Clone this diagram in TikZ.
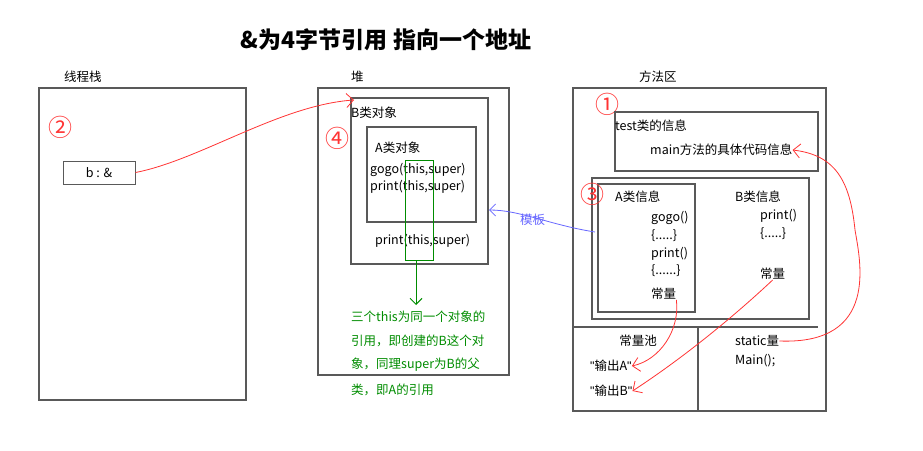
\documentclass[tikz,border=0pt]{standalone}
\usepackage{fontspec}
\setmainfont{Noto Sans CJK SC}
\newfontfamily\lat{Liberation Sans}
\usetikzlibrary{arrows.meta}
\begin{document}
\begin{tikzpicture}[x=1pt,y=-1pt,
  box/.style={draw=black!65,line width=1.3pt},
  t/.style={font=\fontsize{12.5}{14}\selectfont,inner sep=0pt,anchor=west},
  gt/.style={t,text=green!55!black},
  red/.style={draw=red!80,line width=0.8pt},
  circ/.style={font=\fontsize{24}{24}\selectfont,text=red!80}]
\useasboundingbox (0,0) rectangle (923,450);
\node[font=\bfseries\fontsize{23}{25}\selectfont] (title) at (386,40) {\&为4字节引用 指向一个地址};
% thread stack
\node[t] (ls) at (64,77) {线程栈};
\draw[box] (39,88) rectangle (246,400);
\node[circ] (c2) at (60,127) {②};
\node[draw=black!65,line width=1pt,minimum width=72pt,minimum height=23pt,font=\fontsize{12.5}{14}\selectfont] (b) at (99,172.5) {b : \&};
% heap
\node[t] (lh) at (351,77) {堆};
\draw[box] (318,88) rectangle (509,375);
\draw[box] (351,98) rectangle (488,264);
\coordinate (Btop) at (354,100);
\node[t] (bo) at (351,113) {B类对象};
\node[circ] (c4) at (337,138) {④};
\draw[box] (367,127) rectangle (476,222);
\node[t] (ao) at (375,148) {A类对象};
\node[t] (g1) at (370,170) {gogo(this,super)};
\node[t] (p1) at (370,187) {print(this,super)};
\node[t] (p2) at (375,241) {print(this,super)};
\node[draw=green!55!black,line width=1pt,minimum width=28pt,minimum height=100pt,inner sep=0pt] (gr) at (419,210) {};
\coordinate (gend) at (416,305);
\draw[green!55!black,line width=1pt,-{Straight Barb[length=6pt]}] (gr.south -| gend) -- (gend);
\node[gt] (gt1) at (351,317) {三个this为同一个对象的};
\node[gt] (gt2) at (351,341) {引用，即创建的B这个对};
\node[gt] (gt3) at (351,365) {象，同理super为B的父};
\node[gt] (gt4) at (351,390) {类，即A的引用};
% method area
\node[t] (lm) at (639,77) {方法区};
\draw[box] (573,88) rectangle (826,411);
\node[circ] (c1) at (607,104) {①};
\draw[box] (615,112) rectangle (818,171);
\node[t] (test) at (615,126) {test类的信息};
\node[t] (main) at (650,150) {main方法的具体代码信息};
\draw[box] (592,178) rectangle (809,319);
\draw[box] (598,184) rectangle (695,312);
\node[circ] (c3) at (592,194) {③};
\node[t] (ai) at (615,197) {A类信息};
\node[t] at (651,218) {gogo()};
\node[t] at (651,236) {\{.....\}};
\node[t] at (651,254) {print()};
\node[t] at (651,271) {\{......\}};
\node[t] (ca) at (651,294) {常量};
\node[t] (bi) at (735,197) {B类信息};
\node[t] at (760,216) {print()};
\node[t] at (760,234) {\{.....\}};
\node[t] (cb) at (760,274) {常量};
\draw[box] (573,327) -- (818,327);
\draw[box] (698,327) -- (698,411);
\node[t,anchor=center] (cp) at (638,341) {常量池};
\node[t] (oa) at (590,366) {{\lat"}输出A{\lat"}};
\node[t] (ob) at (590,391) {{\lat"}输出B{\lat"}};
\node[t] (st) at (735,341) {static量};
\node[t] (mn) at (735,361) {Main();};
% template
\node[t,text=blue!60] (tpl) at (520,220) {模板};
\draw[blue!60,line width=0.8pt,-{Straight Barb[length=6pt]}] (595,232) .. controls (550,225) and (520,210) .. (489,210);
% red arrows
\draw[red,-{Straight Barb[length=7pt]}] (b.east) .. controls (200,160) and (280,105) .. (Btop);
\draw[red,-{Straight Barb[length=7pt]}] (ca.south east) .. controls (680,330) and (660,360) .. (oa.east);
\draw[red,-{Straight Barb[length=7pt]}] (cb.south) .. controls (730,320) and (680,360) .. (ob.east);
\draw[red,-{Straight Barb[length=7pt]}] (st.east) .. controls (880,345) and (860,260) .. (855,230) .. controls (850,180) and (835,155) .. (main.east);
\end{tikzpicture}
\end{document}
